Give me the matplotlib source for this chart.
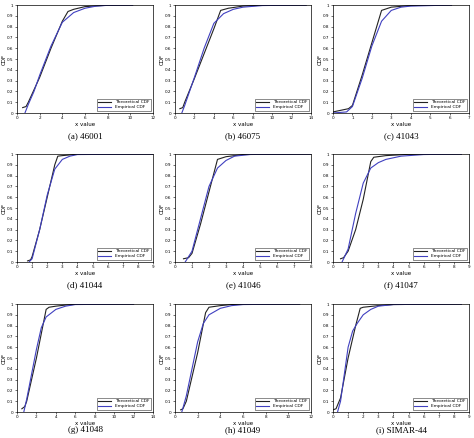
import numpy as np
import matplotlib.pyplot as plt

# panel captions and x-axis limits
captions = ['(a) 46001', '(b) 46075', '(c) 41043',
            '(d) 41044', '(e) 41046', '(f) 41047',
            '(g) 41048', '(h) 41049', '(i) SIMAR-44']
xmax = [12, 14, 7, 9, 8, 9, 14, 12, 9]

# theoretical CDF points (x, y) per panel
theo_x = [
    [0.5, 0.8, 1, 2, 3, 4, 4.5, 5, 6, 8, 10.2],
    [0.5, 0.8, 1, 2, 3, 4, 4.7, 5.5, 7, 9, 13.5],
    [0, 0.8, 1, 1.5, 2, 2.5, 3, 4, 6.1],
    [0.7, 0.9, 1, 1.5, 2, 2.5, 2.7, 3, 4, 9],
    [0.5, 0.8, 1, 1.5, 2, 2.5, 3, 4, 8],
    [0.5, 0.7, 1, 1.5, 2, 2.5, 2.7, 3.5, 5, 8.5],
    [0.5, 0.8, 1, 2, 3, 3.3, 4, 5, 6, 12],
    [0.5, 0.7, 1, 2, 2.7, 3, 4, 5, 11],
    [0, 0.2, 0.5, 1, 1.5, 1.8, 2, 3, 4, 8.5],
]
theo_y = [
    [0.05, 0.06, 0.1, 0.33, 0.6, 0.85, 0.94, 0.96, 0.985, 0.998, 1],
    [0.04, 0.05, 0.1, 0.32, 0.55, 0.78, 0.95, 0.97, 0.99, 0.998, 1],
    [0.01, 0.04, 0.07, 0.35, 0.65, 0.95, 0.98, 0.995, 1],
    [0.01, 0.02, 0.05, 0.3, 0.6, 0.9, 0.98, 0.985, 0.998, 1],
    [0.03, 0.04, 0.08, 0.35, 0.65, 0.95, 0.975, 0.995, 1],
    [0.03, 0.04, 0.1, 0.3, 0.58, 0.93, 0.97, 0.985, 0.997, 1],
    [0.03, 0.05, 0.1, 0.5, 0.95, 0.97, 0.98, 0.99, 0.997, 1],
    [0.02, 0.03, 0.1, 0.55, 0.92, 0.97, 0.985, 0.995, 1],
    [0.02, 0.03, 0.13, 0.5, 0.8, 0.96, 0.97, 0.985, 0.995, 1],
]

# empirical CDF points (x, y) per panel
emp_x = [
    [0.7, 1, 1.5, 2, 3, 4, 5, 6, 7, 8, 10.2],
    [0.7, 1, 2, 3, 4, 5, 6, 7, 9, 13.5],
    [0, 0.7, 1, 1.5, 2, 2.5, 3, 3.5, 4, 6.1],
    [0.8, 1, 1.5, 2, 2.5, 3, 3.5, 4, 9],
    [0.6, 1, 1.5, 2, 2.5, 3, 3.5, 4.5, 8],
    [0.6, 1, 1.5, 2, 2.5, 3, 3.5, 4.5, 6, 8.5],
    [0.7, 1, 2, 2.5, 3, 4, 5, 6, 12],
    [0.6, 1, 2, 2.5, 3, 4, 5, 6, 11],
    [0.3, 0.5, 1, 1.3, 1.6, 2, 2.5, 3, 4, 8.5],
]
emp_y = [
    [0, 0.08, 0.2, 0.35, 0.62, 0.84, 0.93, 0.97, 0.99, 0.997, 1],
    [0, 0.07, 0.33, 0.6, 0.83, 0.92, 0.96, 0.98, 0.995, 1],
    [0, 0.01, 0.06, 0.32, 0.62, 0.85, 0.95, 0.98, 0.99, 1],
    [0, 0.03, 0.3, 0.62, 0.86, 0.95, 0.98, 0.995, 1],
    [0, 0.1, 0.4, 0.7, 0.87, 0.94, 0.98, 0.997, 1],
    [0, 0.12, 0.45, 0.73, 0.87, 0.92, 0.95, 0.98, 0.995, 1],
    [0, 0.12, 0.58, 0.78, 0.88, 0.95, 0.98, 0.995, 1],
    [0, 0.15, 0.65, 0.82, 0.9, 0.96, 0.985, 0.995, 1],
    [0, 0.1, 0.6, 0.75, 0.82, 0.9, 0.95, 0.98, 0.995, 1],
]

fig = plt.figure(figsize=(4.74, 4.38), dpi=100)
lefts = [17, 175, 333]
tops = [5, 154, 304]
caption_y = [136, 285, 430]
W, H = 136, 108

for i in range(9):
    r, c = divmod(i, 3)
    ax = fig.add_axes([lefts[c] / 474, 1 - (tops[r] + H) / 438, W / 474, H / 438])
    ax.plot(theo_x[i], theo_y[i], color='#222222', lw=0.8, label='Theoretical CDF')
    ax.plot(emp_x[i], emp_y[i], color='#4040c0', lw=0.8, label='Empirical CDF')
    ax.set_xlim(0, xmax[i])
    ax.set_ylim(0, 1)
    ax.set_yticks(np.arange(0, 1.01, 0.1))
    ax.set_yticklabels(['0'] + ['%.1f' % v for v in np.arange(0.1, 0.95, 0.1)] + ['1'])
    step = 2 if xmax[i] > 9 else 1
    ax.set_xticks(np.arange(0, xmax[i] + 0.01, step))
    ax.tick_params(labelsize=3, length=1.5, width=0.4, pad=1)
    for s in ax.spines.values():
        s.set_linewidth(0.5)
    ax.set_xlabel('x value', fontsize=4, labelpad=1)
    ax.set_ylabel('CDF', fontsize=4, labelpad=0.5)
    leg = ax.legend(loc='lower right', fontsize=3.2, frameon=True, fancybox=False,
                    handlelength=3, borderpad=0.3, labelspacing=0.2)
    leg.get_frame().set_edgecolor('black')
    leg.get_frame().set_linewidth(0.4)
    fig.text((lefts[c] + W / 2) / 474, 1 - caption_y[r] / 438, captions[i],
             ha='center', va='center', fontsize=6.5, family='Liberation Serif')

fig.savefig('out.png', dpi=100)
